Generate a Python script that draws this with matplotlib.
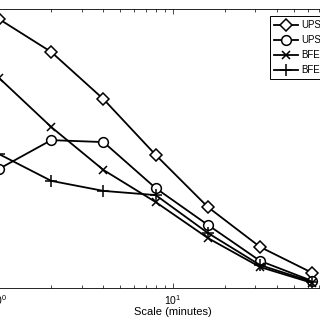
import matplotlib
matplotlib.use("Agg")
import matplotlib.pyplot as plt
from matplotlib.ticker import LogLocator, NullFormatter

plt.rcParams['font.family'] = ['Liberation Sans', 'DejaVu Sans']
plt.rcParams['mathtext.fontset'] = 'custom'
plt.rcParams['mathtext.rm'] = 'Liberation Sans'

scales = [1, 2, 4, 8, 16, 32, 64]
ups1 = [0.964, 0.846, 0.677, 0.477, 0.290, 0.147, 0.054]
ups2 = [0.427, 0.530, 0.523, 0.358, 0.226, 0.097, 0.025]
bfe1 = [0.753, 0.577, 0.423, 0.308, 0.179, 0.075, 0.018]
bfe2 = [0.480, 0.384, 0.348, 0.333, 0.197, 0.082, 0.022]
labels = ['UPS-1', 'UPS-2', 'BFE-1', 'BFE-2']
xlabel = 'Scale (minutes)'

fig = plt.figure(figsize=(3.2, 3.2), dpi=100)
ax = fig.add_axes([-1/320, 0.1, 347/320, 279/320])

kw = dict(color='black', lw=1.3, markerfacecolor='white', markeredgecolor='black', markeredgewidth=1.1)
ax.plot(scales, ups1, marker='D', markersize=6.5, label=labels[0], **kw)
ax.plot(scales, ups2, marker='o', markersize=7, label=labels[1], **kw)
ax.plot(scales, bfe1, marker='x', markersize=6, label=labels[2], **kw)
ax.plot(scales, bfe2, marker='+', markersize=8, label=labels[3], **kw)

ax.set_xscale('log')
ax.set_xlim(1, 100)
ax.set_ylim(0, 1)
ax.xaxis.set_minor_locator(LogLocator(base=10, subs=range(2, 10)))
ax.xaxis.set_minor_formatter(NullFormatter())
ax.tick_params(which='both', direction='in', top=True, right=True, labelsize=7.5, width=0.5, pad=4)
ax.tick_params(axis='y', which='both', left=False, labelleft=False)
ax.tick_params(which='major', length=3.5)
ax.tick_params(which='minor', length=2)
for s in ax.spines.values():
    s.set_linewidth(0.6)
ax.set_xlabel(xlabel, fontsize=8, labelpad=0)

leg = ax.legend(loc='upper left', bbox_to_anchor=(271/347, 1 - 7/279), borderaxespad=0,
                fontsize=7, fancybox=False, framealpha=1, edgecolor='black',
                handlelength=2.4, borderpad=0.45, labelspacing=0.5, handletextpad=0.35)
leg.get_frame().set_linewidth(0.7)

fig.savefig('out.png', dpi=100)
